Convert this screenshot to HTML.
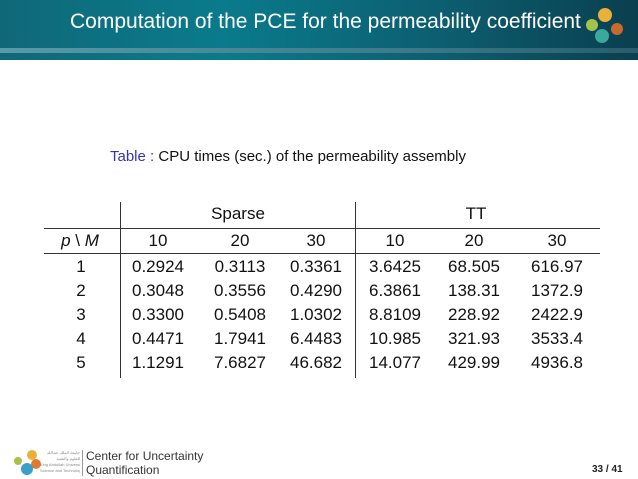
<!DOCTYPE html>
<html><head><meta charset="utf-8"><style>
body{margin:0;width:638px;height:479px;position:relative;overflow:hidden;background:#fff;font-family:"Liberation Sans",sans-serif;}
.abs{position:absolute;}
.c{position:absolute;font-size:17px;color:#111;transform:translateX(-50%);white-space:nowrap;line-height:20px;}
.hl{position:absolute;height:1px;background:#333;}
.vl{position:absolute;width:1px;background:#333;}
</style></head><body>
<div class="abs" style="left:0;top:0;width:638px;height:60px;background:linear-gradient(90deg,#0f6878 0%,#0a7b8c 35%,#0c5d6f 70%,#0a3f4f 100%);"></div>
<div class="abs" style="left:0;top:48px;width:638px;height:5px;background:linear-gradient(90deg,#5a9aa6,#3d7d8b 60%,#2a5d6b);"></div>
<div class="abs" style="left:70px;top:10px;font-size:21px;color:#fff;">Computation of the PCE for the permeability coefficient</div>
<svg class="abs" style="left:565px;top:5px" width="64" height="42">
<circle cx="40" cy="10" r="7" fill="#e8b23a"/><circle cx="27" cy="20" r="6" fill="#a5c24a"/><circle cx="52" cy="24" r="6" fill="#c86a2e"/><circle cx="37" cy="31" r="7" fill="#3aa89a"/></svg>
<div class="abs" style="left:110px;top:148px;font-size:15px;color:#111;"><span style="color:#3333b3">Table :</span> CPU times (sec.) of the permeability assembly</div>
<div class="vl" style="left:120px;top:202px;height:176px"></div>
<div class="vl" style="left:355px;top:202px;height:176px"></div>
<div class="hl" style="left:44px;top:228px;width:556px"></div>
<div class="hl" style="left:44px;top:253px;width:556px"></div>
<div id="tbl"></div>
<div class="c" style="left:238px;top:204px">Sparse</div>
<div class="c" style="left:476px;top:204px">TT</div>
<div class="c" style="left:80px;top:231px"><i>p</i> \ <i>M</i></div>
<svg class="abs" style="left:10px;top:448px" width="35" height="28">
<circle cx="22" cy="7" r="5" fill="#e8b23a"/><circle cx="8" cy="13" r="4" fill="#a5c24a"/><circle cx="26" cy="16" r="5" fill="#e07a2e"/><circle cx="17" cy="21" r="6" fill="#3aa0c8"/></svg>
<div class="abs" style="left:40px;top:450px;font-size:4px;color:#888;line-height:6px;width:40px;text-align:right;white-space:nowrap;overflow:hidden">جامعة الملك عبدالله<br>للعلوم والتقنية<br>King Abdullah University of<br>Science and Technology</div>
<div class="vl" style="left:82px;top:450px;height:26px;background:#999"></div>
<div class="abs" style="left:86px;top:449px;font-size:12px;color:#333;line-height:14px">Center for Uncertainty<br>Quantification</div>
<div class="abs" style="left:592px;top:464px;font-size:10px;color:#222;font-weight:bold">33 / 41</div>
<script>
const cols=["10","20","30","10","20","30"];
const rowsP=["1","2","3","4","5"];
const sparse=[["0.2924","0.3113","0.3361"],["0.3048","0.3556","0.4290"],["0.3300","0.5408","1.0302"],["0.4471","1.7941","6.4483"],["1.1291","7.6827","46.682"]];
const tt=[["3.6425","68.505","616.97"],["6.3861","138.31","1372.9"],["8.8109","228.92","2422.9"],["10.985","321.93","3533.4"],["14.077","429.99","4936.8"]];
const colX=[158,240,316,395,474,557];
const t=document.getElementById('tbl');
function cell(x,y,txt,name){const d=document.createElement('div');d.className='c';d.style.left=x+'px';d.style.top=y+'px';d.textContent=txt;


t.appendChild(d);}
cols.forEach((c,i)=>cell(colX[i],231,c,'col-header-'+i));
rowsP.forEach((p,r)=>{const y=257+r*24;cell(81,y,p,'row-p-'+p);
sparse[r].concat(tt[r]).forEach((v,i)=>cell(colX[i],y,v,'cell-'+p+'-'+i));});
</script>
</body></html>
